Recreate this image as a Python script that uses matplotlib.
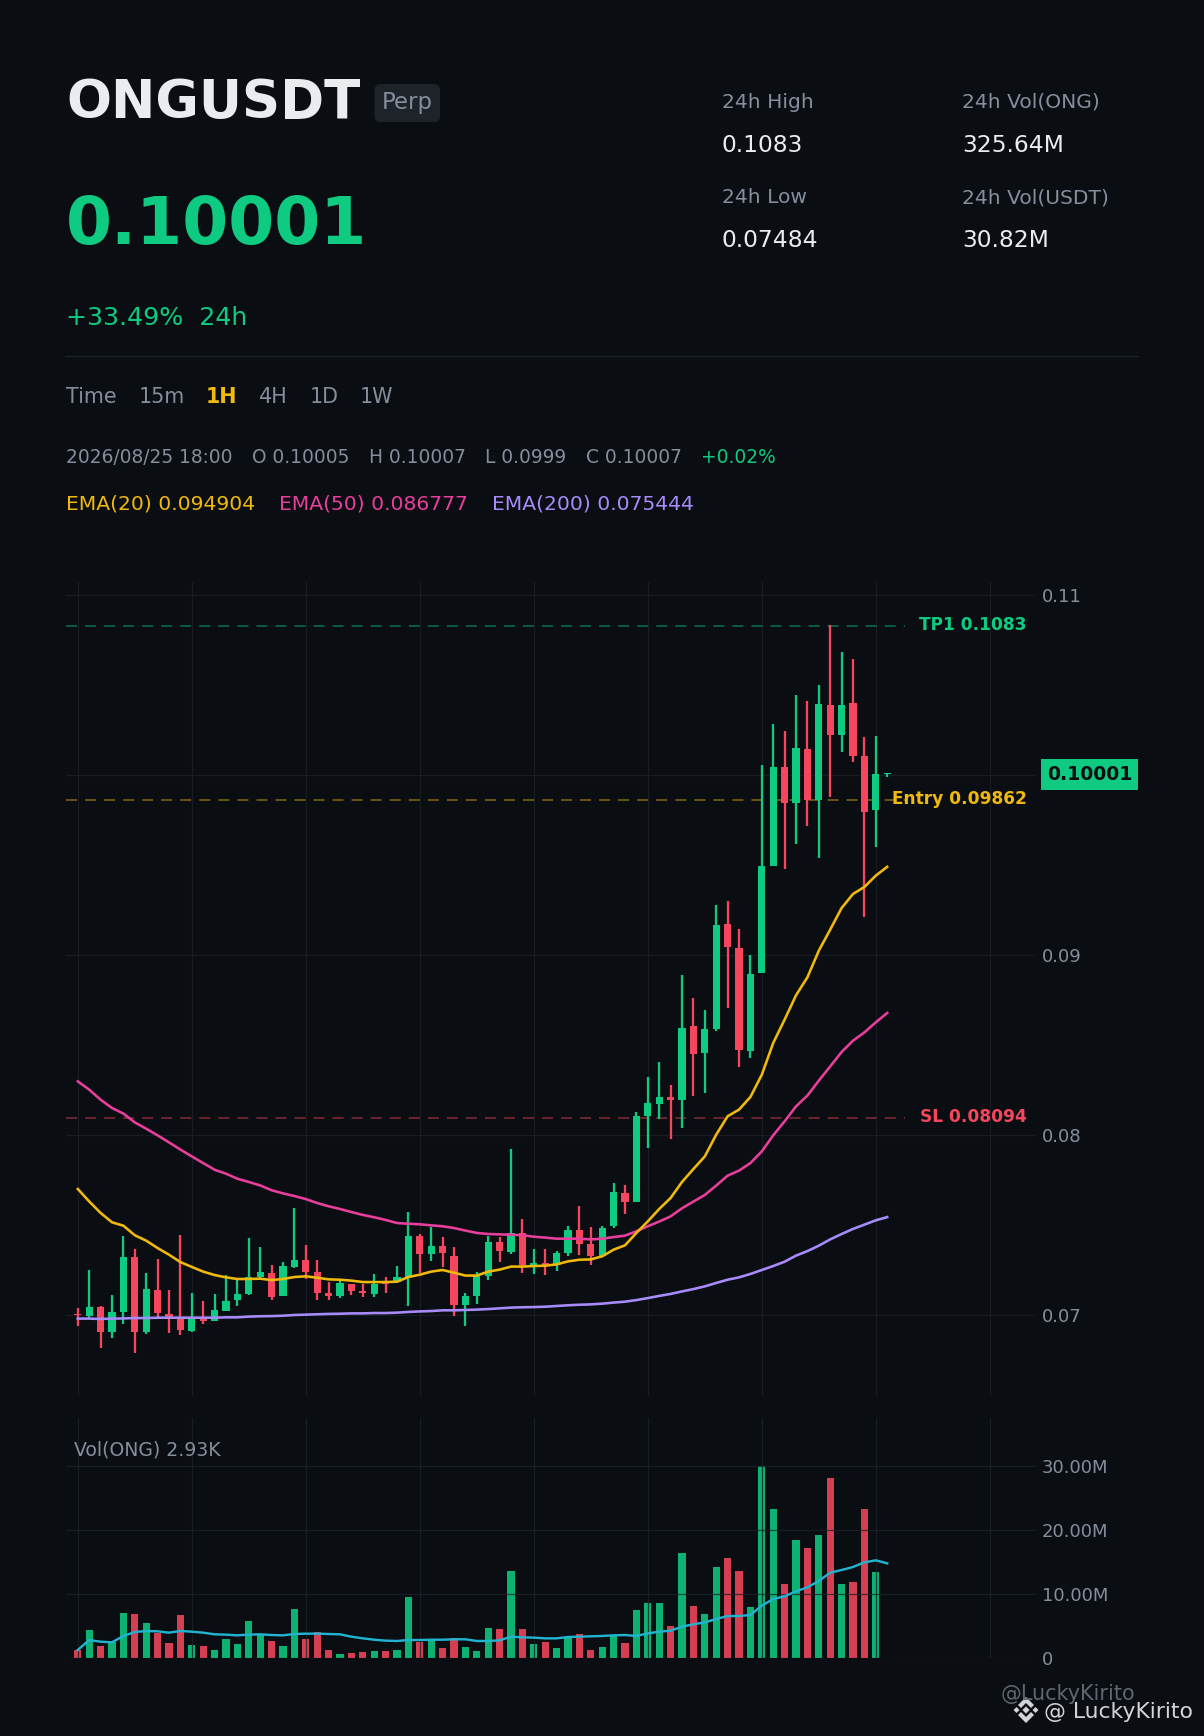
import numpy as np
import matplotlib
matplotlib.use("Agg")
import matplotlib.pyplot as plt
from matplotlib.patches import FancyBboxPatch, Polygon, Rectangle

W, H = 1204, 1736

opens = [.07002,.06996,.07046,.06907,.07019,.07324,.06907,.07141,.07007,.06987,.06913,.0698,.06969,.07024,.07085,.07119,.07213,.07235,.07107,.07269,.07307,.07241,.07124,.07107,.07174,.07135,.07119,.0718,.07185,.07213,.07441,.07341,.07385,
         .0733,.07057,.07107,.07219,.07407,.07352,.07457,.0728,.07291,.0728,.07346,.07474,.07396,.0733,.07496,.0768,.0763,.08107,.08174,
         .08213,.08196,.08607,.08457,.08591,.09174,.09041,.08469,.08902,.09496,.10046,.09846,.10146,.09863,.10391,.10224,.10402,.10107,.09807,.10005]
highs = [.07041,.07252,.07052,.07113,.07441,.07369,.07235,.07313,.07141,.07446,.07124,.0708,.07119,.07224,.07196,.0743,.0738,.0728,.07296,.07596,.07391,.07307,.07185,.07196,.07174,.07174,.0723,.07213,.07274,.07574,.07452,.07491,.07435,
         .0738,.07124,.07241,.07441,.07435,.07924,.07535,.07369,.07369,.07357,.07496,.07607,.07491,.07496,.07735,.07724,.0813,.08324,.08407,
         .0828,.08891,.08763,.08696,.0928,.09302,.09146,.09002,.10057,.10285,.10246,.10446,.10413,.10502,.10835,.10685,.10646,.10213,.10219,.10007]
lows = [.06937,.06983,.06819,.06874,.06952,.06791,.06896,.06991,.06902,.06891,.06907,.06952,.06969,.07024,.07052,.07113,.07206,.07085,.07107,.07263,.07202,.07085,.07085,.07096,.07113,.07102,.07102,.07124,.07178,.07052,.07235,.07302,.07269,
        .06996,.06941,.07063,.07196,.07296,.07341,.07235,.0723,.07224,.07246,.0733,.07335,.0728,.07326,.07485,.07563,.0763,.0793,.08091,
        .0798,.08041,.08219,.08235,.0858,.08707,.0838,.0843,.08902,.09496,.0948,.09619,.09719,.09541,.0988,.1013,.10074,.09213,.09602,.0999]
closes = [.06998,.07046,.06907,.07019,.07324,.06907,.07146,.07013,.06985,.06919,.06985,.06969,.0703,.0708,.07119,.07213,.07241,.07102,.07274,.07307,.07241,.07124,.07107,.0718,.07135,.07124,.07174,.07174,.07213,.07441,.07341,.07385,.07346,
          .07057,.07107,.07219,.07407,.07357,.07457,.0728,.07291,.0728,.07346,.07474,.07396,.0733,.07485,.07685,.0763,.08107,.0818,.08213,
          .08196,.08596,.08452,.08591,.09169,.09046,.08474,.08896,.09496,.10046,.09846,.10152,.09863,.10396,.10224,.10391,.10107,.09796,.10007,.10007]
ema20 = [.077,.07631,.07567,.07515,.07496,.07443,.07413,.07372,.07335,.07294,.07267,.07241,.07222,.07209,.072,.072,.07202,.07194,.072,.07211,.07215,.07207,.07198,.07196,.07191,.07183,.07183,.07183,.07185,.07211,.07224,.07241,.0725,
         .07235,.07219,.07219,.07241,.07252,.07269,.07269,.07272,.07274,.07281,.07298,.07307,.07309,.07326,.07363,.07387,.07456,.0752,.07589,.0765,.07739,.07811,.07881,.08002,.08104,.08141,.08211,
         .08335,.08511,.08641,.08776,.08876,.09024,.09141,.09261,.09339,.09378,.09441,.09490]
ema50 = [.08298,.08252,.08196,.0815,.08119,.0807,.08035,.07998,.07959,.07919,.07881,.07844,.07807,.07785,.07757,.07739,.0772,.07693,.07676,.07661,.07644,.07622,.07604,.07589,.07572,.07556,.07543,.07528,.07511,.07507,.07504,.07498,.07493,
         .07483,.07469,.07456,.0745,.07448,.07446,.07443,.07435,.0743,.07424,.07424,.07424,.0742,.07424,.07433,.07441,.07465,.07493,.07519,.07548,.07593,.0763,.07667,.07719,.07774,.07802,.07844,
         .07909,.07998,.08076,.08159,.08219,.08302,.08381,.08461,.08524,.0857,.08626,.08678]
ema200 = [.0698,.0698,.06978,.0698,.06981,.06983,.06983,.06985,.06985,.06985,.06985,.06985,.06985,.06987,.06987,.06991,.06993,.06994,.06996,.07,.07002,.07004,.07006,.07007,.07009,.07009,.07011,.07011,.07013,.07017,.0702,.07022,.07026,
          .07026,.07028,.0703,.07033,.07037,.07041,.07043,.07044,.07046,.0705,.07054,.07057,.07059,.07063,.07069,.07074,.07083,.07094,.07106,.07117,.07131,.07144,.07159,.07178,.07196,.07209,.07228,
          .0725,.07272,.07296,.0733,.07355,.07385,.0742,.0745,.07478,.07502,.07526,.07544]
volume = [1.25,4.38,1.88,2.5,7.03,6.88,5.47,3.91,2.34,6.72,2.03,1.88,1.25,2.97,2.19,5.78,3.59,2.66,1.88,7.66,2.97,4.06,1.25,.63,.78,.94,1.09,1.09,1.25,9.53,2.5,2.97,1.56,3.13,1.72,1.09,4.69,4.53,13.59,4.53,2.19,2.5,1.56,3.28,3.75,1.25,1.72,3.59,2.34,7.5,8.59,8.59,5.0,16.41,8.13,6.88,14.22,15.63,13.59,7.97,29.95,23.28,11.56,18.44,17.19,19.22,28.13,11.56,11.88,23.28,13.44,.00293]
vol_ma = [1.25,2.81,2.55,2.45,3.44,4.06,4.22,4.17,3.96,4.22,4.11,3.96,3.70,3.65,3.54,3.65,3.70,3.59,3.54,3.75,3.80,3.80,3.75,3.70,3.33,3.07,2.86,2.71,2.66,2.81,2.81,2.86,2.86,2.92,2.92,2.66,2.66,2.76,3.33,3.23,3.18,3.07,3.07,3.28,3.33,3.39,3.44,3.54,3.59,3.44,3.85,4.11,4.27,4.90,5.26,5.57,6.09,6.56,6.56,6.72,8.18,9.22,9.64,10.42,11.04,12.03,13.33,13.75,14.22,14.95,15.26,14.79]

price_ticks = [0.07, 0.08, 0.09, 0.10, 0.11]
price_tick_labels = ['0.07', '0.08', '0.09', '', '0.11']
vol_ticks = [0, 10, 20, 30]
vol_tick_labels = ['0', '10.00M', '20.00M', '30.00M']
levels = [(0.1083, 'TP1 0.1083', '#0ecb81'), (0.09862, 'Entry 0.09862', '#f0b90b'), (0.08094, 'SL 0.08094', '#f6465d')]

BG = '#0a0d11'; GREEN = '#0ecb81'; RED = '#f6465d'; GREY = '#848e9c'
YEL = '#f0b90b'; PINK = '#e83e9c'; PURP = '#a78bfa'; BLUE = '#22b3d0'; WHITE = '#eaecef'

x = np.arange(len(opens))
opens, closes, highs, lows = map(np.array, (opens, closes, highs, lows))
colors = [GREEN if c >= o else RED for o, c in zip(opens, closes)]

fig = plt.figure(figsize=(W / 100, H / 100), dpi=100, facecolor=BG)
px = 0.72


def axes_px(l, t, r, b):
    return fig.add_axes([l / W, 1 - b / H, (r - l) / W, (b - t) / H], facecolor='none')


def style(ax, yt, ytl):
    for s in ax.spines.values():
        s.set_visible(False)
    ax.set_xticks(range(0, 90, 10))
    ax.set_xticklabels([])
    ax.set_yticks(yt)
    ax.set_yticklabels(ytl)
    ax.yaxis.tick_right()
    ax.tick_params(length=0, pad=7 * px, labelcolor=GREY, labelsize=18 * px)


GX0 = 77.8; GDX = 11.4
xlim = ((66 - GX0) / GDX, (1035 - GX0) / GDX)

# main panel
ax = axes_px(66, 582, 1035, 1396)
ax.set_xlim(xlim)
ax.set_ylim(0.07 - (1396 - 1315.0) / 18000, 0.07 + (1315.0 - 582) / 18000)
style(ax, price_ticks, price_tick_labels)
ax.grid(True, color='#191d23', lw=1.2 * px)
ax.set_axisbelow(True)
for val, lab, col in levels:
    ax.plot([xlim[0], (905 - GX0) / GDX], [val, val], color=col, alpha=0.5, lw=1.6 * px,
            ls=(0, (6.9, 5.0)), zorder=1)
    ax.text((1026.5 - GX0) / GDX, val + 0.00004, lab, color=col, fontsize=17 * px, fontweight='bold',
            ha='right', va='center', zorder=6)
ax.vlines(x, lows, highs, colors=colors, lw=2.3 * px, zorder=2, capstyle='butt')
body_low = np.minimum(opens, closes)
body_h = np.maximum(np.abs(opens - closes), 0.00008)
ax.bar(x, body_h, bottom=body_low, width=0.64, color=colors, lw=0, zorder=2.1)
ax.plot(x, ema200, color=PURP, lw=2.6 * px, zorder=3)
ax.plot(x, ema50, color=PINK, lw=2.6 * px, zorder=3)
ax.plot(x, ema20, color=YEL, lw=2.6 * px, zorder=3)

# volume panel
av = axes_px(66, 1418, 1035, 1658)
av.set_xlim(xlim)
av.set_ylim(0, (1658 - 1418) / 6.4)
style(av, vol_ticks, vol_tick_labels)
av.grid(True, color='#1e2329', lw=1.2 * px, alpha=0.8)
av.set_axisbelow(False)
av.bar(x, volume, width=0.64, color=colors, alpha=0.87, lw=0, zorder=1)
av.plot(x, vol_ma, color=BLUE, lw=2.4 * px, zorder=3)

# overlay in pixel space
ov = fig.add_axes([0, 0, 1, 1], facecolor='none', zorder=5)
ov.set_xlim(0, W); ov.set_ylim(H, 0); ov.axis('off')


def t(xp, yp, s, size, color=GREY, **kw):
    ov.text(xp, yp, s, fontsize=size * px, color=color, va='baseline', **kw)


t(66, 118, 'ONGUSDT', 53, WHITE, fontweight='bold')
ov.add_patch(FancyBboxPatch((374.5, 84), 65.5, 38, boxstyle='round,pad=0,rounding_size=6', fc='#1e2329', ec='none'))
t(382, 109.5, 'Perp', 22.8)
t(66, 244, '0.10001', 66.2, GREEN, fontweight='bold')
t(66, 325, '+33.49%  24h', 25.3, GREEN)

for xp, yp, s in [(721.5, 108, '24h High'), (962, 108, '24h Vol(ONG)'), (721.5, 203, '24h Low'), (962, 203, '24h Vol(USDT)')]:
    t(xp, yp, s, 20.3)
for xp, yp, s in [(721.5, 152, '0.1083'), (962, 152, '325.64M'), (721.5, 247, '0.07484'), (962, 247, '30.82M')]:
    t(xp, yp, s, 23.4, WHITE)

ov.plot([65, 1138], [356, 356], color='#1e2329', lw=1.2 * px)

for xp, s in [(66, 'Time'), (138.5, '15m'), (259, '4H'), (310, '1D'), (360, '1W')]:
    t(xp, 403, s, 20.7)
t(206, 403, '1H', 20.7, YEL, fontweight='bold')

for xp, s in [(66, '2026/08/25 18:00'), (252.5, 'O 0.10005'), (369, 'H 0.10007'), (485, 'L 0.0999'), (586, 'C 0.10007')]:
    t(xp, 463, s, 18.7)
t(701, 463, '+0.02%', 18.7, GREEN)

t(66, 510, 'EMA(20) 0.094904', 20.3, YEL)
t(279, 510, 'EMA(50) 0.086777', 20.3, PINK)
t(492, 510, 'EMA(200) 0.075444', 20.3, PURP)

ov.add_patch(Rectangle((1040.5, 759), 97.5, 31, fc=GREEN, ec='none'))
ov.text(1089.5, 774.5, '0.10001', fontsize=18.9 * px, color=BG, fontweight='bold', ha='center', va='center')

t(74, 1456, 'Vol(ONG) 2.93K', 18.9)

t(1001, 1700, '@LuckyKirito', 20.8, '#5f6671')
t(1044.5, 1718, '@ LuckyKirito', 21.9, '#d0d3d8')
lc = '#d0d3d8'; cx, cy = 1026, 1710
for pts in ([(0, -3.6), (3.6, 0), (0, 3.6), (-3.6, 0)],
            [(-9.5, -3), (-6.5, 0), (-9.5, 3), (-12.5, 0)],
            [(9.5, -3), (12.5, 0), (9.5, 3), (6.5, 0)],
            [(0, -13), (8, -5), (5, -2), (0, -7), (-5, -2), (-8, -5)],
            [(0, 13), (8, 5), (5, 2), (0, 7), (-5, 2), (-8, 5)]):
    ov.add_patch(Polygon([(cx + a, cy + b) for a, b in pts], closed=True, fc=lc, ec='none'))

fig.savefig('out.png', dpi=100, facecolor=BG)
